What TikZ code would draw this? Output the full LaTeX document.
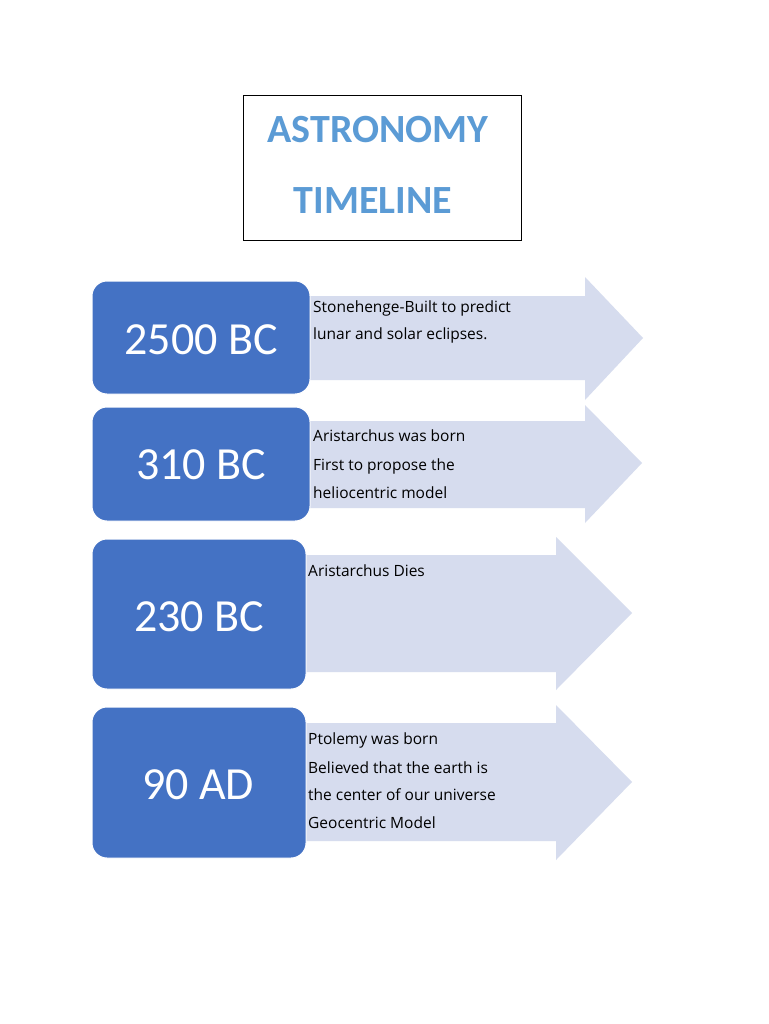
\documentclass[tikz,border=0pt]{standalone}
\usepackage{fontspec}
\setmainfont{Open Sans}
\newfontfamily\calib{Carlito}
\definecolor{boxblue}{RGB}{68,114,196}
\definecolor{arrowfill}{RGB}{214,220,238}
\definecolor{titleblue}{RGB}{91,155,213}
\begin{document}
\begin{tikzpicture}[x=1pt,y=-1pt,
  datebox/.style={fill=boxblue,draw=white,line width=1pt,rounded corners=15pt},
  datetext/.style={text=white,font=\calib\fontsize{46}{50}\selectfont},
  desc/.style={anchor=west,font=\fontsize{15.5}{20}\selectfont,inner sep=0pt},
  arrowshape/.style={fill=arrowfill,draw=none}]
\useasboundingbox (0,0) rectangle (768,1024);
\fill[white] (0,0) rectangle (768,1024);
\draw[line width=0.8pt] (243,95) rectangle (521,240);
\node[text=titleblue,font=\calib\bfseries\fontsize{40}{44}\selectfont] (t1) at (378,130) {ASTRONOMY};
\node[text=titleblue,font=\calib\bfseries\fontsize{40}{44}\selectfont] (t2) at (373,201) {TIMELINE};
% arrows
\fill[arrowshape] (300,296) -- (585,296) -- (585,277) -- (643,338) -- (585,400) -- (585,380) -- (300,380) -- cycle;
\fill[arrowshape] (300,421) -- (585,421) -- (585,405) -- (642,463) -- (585,523) -- (585,508) -- (300,508) -- cycle;
\fill[arrowshape] (300,555) -- (556,555) -- (556,537) -- (632,613) -- (556,690) -- (556,672) -- (300,672) -- cycle;
\fill[arrowshape] (300,723) -- (556,723) -- (556,705) -- (632,782) -- (556,860) -- (556,841) -- (300,841) -- cycle;
% boxes
\draw[datebox] (92,281) rectangle (310,394);
\draw[datebox] (92,407) rectangle (310,521);
\draw[datebox] (92,539) rectangle (306,689);
\draw[datebox] (92,707) rectangle (306,858);
\node[datetext] (d1) at (201,340) {2500 BC};
\node[datetext] (d2) at (201,465) {310 BC};
\node[datetext] (d3) at (199,617) {230 BC};
\node[datetext] (d4) at (198,785) {90 AD};
% descriptions
\node[desc] (a1) at (313,308) {Stonehenge-Built to predict};
\node[desc] (a2) at (313,335) {lunar and solar eclipses.};
\node[desc] (b1) at (313,436) {Aristarchus was born};
\node[desc] (b2) at (313,466) {First to propose the};
\node[desc] (b3) at (313,493) {heliocentric model};
\node[desc] (c1) at (308,571) {Aristarchus Dies};
\node[desc] (e1) at (308,740) {Ptolemy was born};
\node[desc] (e2) at (308,768) {Believed that the earth is};
\node[desc] (e3) at (308,795) {the center of our universe};
\node[desc] (e4) at (308,823) {Geocentric Model};
\end{tikzpicture}
\end{document}
